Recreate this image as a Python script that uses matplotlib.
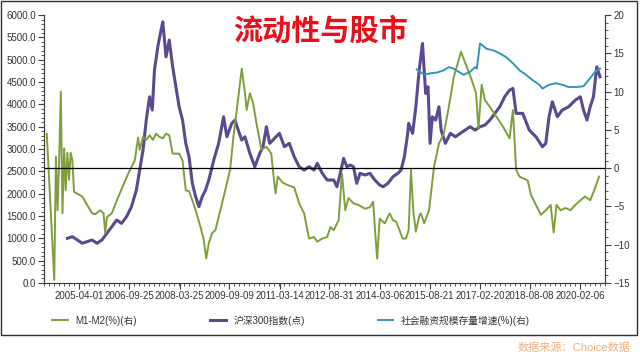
import matplotlib
matplotlib.use("Agg")
import matplotlib.pyplot as plt
import matplotlib.dates as mdates
from matplotlib.patches import Rectangle
import numpy as np
import pandas as pd

plt.rcParams['font.family'] = ['Liberation Sans', 'Noto Sans CJK SC']

# M1-M2 (%), right axis
m1m2_dates = ["2004-04-15", "2004-07-05", "2004-07-23", "2004-08-10", "2004-08-28", "2004-09-14",
              "2004-10-02", "2004-10-20", "2004-11-06", "2004-11-24", "2004-12-12", "2004-12-30",
              "2005-01-17", "2005-02-04", "2005-05-04", "2005-08-18", "2005-09-23", "2005-11-15",
              "2005-12-21", "2006-01-08", "2006-01-26", "2006-03-20", "2006-05-31", "2006-09-14",
              "2006-11-23", "2006-12-30", "2007-01-16", "2007-02-21", "2007-03-28", "2007-05-03",
              "2007-06-08", "2007-07-13", "2007-08-17", "2007-09-23", "2007-10-28", "2007-12-02",
              "2008-01-08", "2008-03-18", "2008-04-24", "2008-05-29", "2008-07-03", "2008-08-08",
              "2008-09-13", "2008-11-05", "2008-12-10", "2009-01-05", "2009-02-02", "2009-03-10",
              "2009-04-15", "2009-06-07", "2009-07-30", "2009-09-21", "2009-10-27", "2009-12-02",
              "2010-01-25", "2010-03-01", "2010-03-19", "2010-04-23", "2010-05-28", "2010-07-03",
              "2010-08-26", "2010-10-19", "2010-12-11", "2010-12-28", "2011-01-26", "2011-02-19",
              "2011-04-14", "2011-06-24", "2011-08-16", "2011-10-09", "2011-12-01", "2012-01-24",
              "2012-03-17", "2012-04-22", "2012-06-15", "2012-08-07", "2012-09-12", "2012-10-17",
              "2012-12-09", "2013-01-14", "2013-02-19", "2013-03-26", "2013-05-19", "2013-07-11",
              "2013-09-21", "2013-11-13", "2013-12-18", "2014-01-05", "2014-01-30", "2014-02-27",
              "2014-04-22", "2014-06-15", "2014-07-20", "2014-08-24", "2014-09-29", "2014-11-03",
              "2014-12-08", "2015-01-06", "2015-01-31", "2015-02-25", "2015-03-25", "2015-04-30",
              "2015-05-18", "2015-06-23", "2015-08-15", "2015-10-08", "2015-11-30", "2016-01-22",
              "2016-03-16", "2016-05-09", "2016-07-26", "2016-09-28", "2016-11-20", "2017-01-05",
              "2017-01-31", "2017-03-07", "2017-04-11", "2017-06-04", "2017-08-14", "2017-10-25",
              "2018-01-03", "2018-02-08", "2018-03-15", "2018-04-20", "2018-07-18", "2018-08-23",
              "2018-10-15", "2018-12-08", "2019-01-30", "2019-03-24", "2019-04-25", "2019-05-27",
              "2019-07-09", "2019-08-31", "2019-10-23", "2019-12-16", "2020-02-08", "2020-04-01",
              "2020-05-25", "2020-07-17", "2020-08-28"]
m1m2 = [4.5, -14.6, 1.5, -5.5, 1.5, 10.0,
        -5.9, 2.6, -2.9, 2.0, -1.5, 2.0,
        1.0, -3.1, -3.7, -5.9, -6.0, -5.5,
        -5.9, -8.5, -6.4, -5.9, -3.7, -0.7,
        1.0, 4.0, 2.4, 4.1, 3.7, 4.3,
        3.7, 4.5, 4.1, 3.9, 4.5, 4.3,
        1.9, 1.9, 1.0, -2.9, -3.0, -4.2,
        -5.5, -7.7, -9.4, -11.8, -9.8, -8.5,
        -8.1, -5.5, -2.9, -0.2, 4.1, 7.6,
        13.0, 9.8, 7.6, 9.8, 8.5, 5.9,
        2.4, 2.8, 1.9, -0.2, -3.3, -1.1,
        -1.9, -2.3, -2.5, -4.6, -5.9, -9.2,
        -9.0, -9.6, -9.2, -9.0, -7.7, -8.1,
        -6.8, -0.7, -5.5, -3.9, -4.6, -4.8,
        -5.3, -5.1, -4.4, -7.7, -11.8, -6.6,
        -7.2, -5.9, -6.8, -7.0, -8.1, -9.2,
        -9.2, -8.1, -0.2, -5.5, -8.3, -6.3,
        -5.9, -7.2, -5.5, 0.2, 3.2, 4.5,
        8.0, 11.9, 15.2, 13.2, 11.5, 9.8,
        5.2, 10.9, 8.9, 8.0, 6.7, 5.4,
        3.9, 7.6, -0.2, -1.1, -1.6, -3.5,
        -4.8, -6.1, -5.5, -4.8, -8.4, -4.8,
        -5.5, -5.2, -5.5, -4.8, -4.2, -3.7,
        -4.2, -2.6, -1.1]

# CSI 300 index (points), left axis
hs300_dates = ["2004-11-24", "2005-01-17", "2005-03-11", "2005-05-04", "2005-06-26", "2005-08-18",
               "2005-10-11", "2005-12-03", "2006-01-26", "2006-03-20", "2006-05-12", "2006-07-04",
               "2006-08-27", "2006-10-19", "2006-12-11", "2007-01-16", "2007-02-21", "2007-03-28",
               "2007-05-03", "2007-06-01", "2007-06-25", "2007-07-31", "2007-09-04", "2007-09-23",
               "2007-10-28", "2007-12-02", "2008-01-08", "2008-02-12", "2008-03-18", "2008-04-24",
               "2008-05-29", "2008-07-03", "2008-08-08", "2008-09-13", "2008-10-18", "2008-11-23",
               "2008-12-29", "2009-02-02", "2009-03-28", "2009-05-20", "2009-07-12", "2009-08-17",
               "2009-10-09", "2009-11-13", "2009-12-18", "2010-01-25", "2010-03-01", "2010-04-23",
               "2010-06-15", "2010-08-08", "2010-09-12", "2010-10-19", "2010-11-23", "2011-02-02",
               "2011-03-09", "2011-05-02", "2011-06-24", "2011-08-16", "2011-10-09", "2011-12-01",
               "2012-01-24", "2012-03-17", "2012-04-22", "2012-06-15", "2012-08-07", "2012-10-17",
               "2012-11-21", "2012-12-27", "2013-02-01", "2013-03-08", "2013-04-14", "2013-05-19",
               "2013-06-23", "2013-07-29", "2013-09-21", "2013-11-13", "2014-01-05", "2014-02-27",
               "2014-04-04", "2014-05-27", "2014-07-20", "2014-09-11", "2014-10-16", "2014-11-21",
               "2014-12-27", "2015-01-06", "2015-02-18", "2015-03-25", "2015-04-30", "2015-06-05",
               "2015-06-23", "2015-07-10", "2015-08-04", "2015-08-26", "2015-09-20", "2015-10-25",
               "2015-11-30", "2015-12-24", "2016-02-08", "2016-04-02", "2016-05-26", "2016-07-18",
               "2016-09-10", "2016-11-02", "2016-12-25", "2017-02-17", "2017-04-11", "2017-06-04",
               "2017-07-27", "2017-09-19", "2017-11-11", "2018-01-03", "2018-02-08", "2018-03-15",
               "2018-05-26", "2018-08-04", "2018-10-15", "2018-12-25", "2019-01-30", "2019-03-06",
               "2019-04-11", "2019-06-04", "2019-07-27", "2019-10-05", "2019-12-16", "2020-02-08",
               "2020-03-14", "2020-04-20", "2020-05-25", "2020-06-29", "2020-08-04", "2020-09-08"]
hs300 = [1000, 1037, 963, 889, 926, 963,
         889, 963, 1112, 1261, 1410, 1335,
         1485, 1708, 2082, 2530, 2977, 3649,
         4171, 3873, 4768, 5290, 5664, 5850,
         5066, 5440, 4842, 4394, 3947, 3649,
         3127, 2828, 2232, 1932, 1708, 1932,
         2082, 2306, 2753, 3127, 3723, 3275,
         3575, 3649, 3425, 3201, 3275, 2903,
         2604, 2903, 3052, 3500, 3127, 3275,
         3351, 3052, 3127, 2828, 2604, 2530,
         2604, 2530, 2679, 2456, 2306, 2306,
         2156, 2456, 2791, 2604, 2642, 2604,
         2232, 2456, 2418, 2456, 2306, 2194,
         2156, 2232, 2380, 2456, 2530, 2828,
         3351, 3575, 3351, 3947, 4768, 5365,
         4768, 4246, 4395, 3127, 3723, 3649,
         3947, 3425, 3127, 3351, 3275, 3351,
         3425, 3500, 3425, 3500, 3537, 3649,
         3798, 3947, 4171, 4320, 4358, 3799,
         3799, 3425, 3275, 3052, 3127, 3723,
         4059, 3723, 3873, 3947, 4097, 4171,
         3873, 3649, 3947, 4171, 4842, 4619]

# social financing stock growth (%), right axis
sf_dates = ["2015-04-04", "2015-06-23", "2015-09-01", "2015-11-11", "2016-01-22", "2016-03-16",
            "2016-05-09", "2016-07-01", "2016-08-24", "2016-11-02", "2016-12-25", "2017-01-13",
            "2017-02-17", "2017-04-29", "2017-07-09", "2017-09-19", "2017-11-29", "2018-02-08",
            "2018-04-20", "2018-06-30", "2018-09-10", "2018-11-20", "2018-12-25", "2019-03-06",
            "2019-05-16", "2019-07-27", "2019-10-05", "2019-12-16", "2020-03-14", "2020-05-07",
            "2020-07-17", "2020-09-08"]
sf = [12.9, 12.2, 12.4, 12.5, 12.8, 13.2,
      13.0, 12.6, 12.2, 12.6, 13.2, 13.0,
      16.3, 15.6, 15.4, 15.0, 14.5, 13.7,
      12.8, 12.2, 11.5, 10.9, 10.4, 10.9,
      11.1, 10.9, 10.6, 10.6, 10.7, 11.5,
      12.6, 13.0]

tick_dates = ["2005-04-01", "2006-09-25", "2008-03-25", "2009-09-09", "2011-03-14", "2012-08-31",
              "2014-03-06", "2015-08-21", "2017-02-20", "2018-08-08", "2020-02-06"]

green = '#7f9f3d'
purple = '#5c4a8e'
teal = '#3497b2'
txt = '#333333'

fig = plt.figure(figsize=(6.4, 3.6), dpi=100)
ax = fig.add_axes([0.069, 0.214, 0.876, 0.744])
ax2 = ax.twinx()

ax.plot(pd.to_datetime(hs300_dates), hs300, color=purple, lw=2.2, label='沪深300指数(点)')
ax2.plot(pd.to_datetime(m1m2_dates), m1m2, color=green, lw=1.4, label='M1-M2(%)(右)')
ax2.plot(pd.to_datetime(sf_dates), sf, color=teal, lw=1.4, label='社会融资规模存量增速(%)(右)')
ax2.axhline(0, color='black', lw=0.9)

ax.set_xlim(pd.Timestamp("2004-04-15"), pd.Timestamp("2020-09-08"))
ax.set_ylim(0, 6000)
ax2.set_ylim(-15, 20)

ax.set_yticks(np.arange(0, 6001, 500))
ax.set_yticklabels([f"{v:.1f}" for v in np.arange(0, 6001, 500)])
ax.yaxis.set_minor_locator(matplotlib.ticker.MultipleLocator(100))
ax2.set_yticks(np.arange(-15, 21, 5))
ax2.yaxis.set_minor_locator(matplotlib.ticker.MultipleLocator(1))

ticks = pd.to_datetime(tick_dates)
ax.set_xticks(ticks)
ax.set_xticklabels(tick_dates)
tnum = mdates.date2num(ticks)
step = (tnum[1] - tnum[0]) / 10
ax.set_xticks(np.arange(tnum[0] - 7 * step, tnum[-1] + 5 * step, step), minor=True)

for a in (ax, ax2):
    a.spines['top'].set_visible(False)
    for s in ('left', 'right', 'bottom'):
        a.spines[s].set_color('#404040')
        a.spines[s].set_linewidth(0.8)
    a.tick_params(which='major', length=4, width=0.8, color='#404040', labelsize=7, labelcolor=txt, pad=2)
    a.tick_params(which='minor', length=2, width=0.6, color='#404040')

fig.text(0.5, 0.915, '流动性与股市', color='#e8101a', fontsize=21, fontweight='bold',
         ha='center', va='center', family=['Noto Sans CJK SC'])

h1, l1 = ax2.get_legend_handles_labels()
h0, l0 = ax.get_legend_handles_labels()
fig.legend([h1[0], h0[0], h1[1]], [l1[0], l0[0], l1[1]], ncol=3, loc='center',
           bbox_to_anchor=(0.455, 0.11), frameon=False, fontsize=7, labelcolor=txt,
           handlelength=1.6, handletextpad=0.8, columnspacing=7.5)

fig.patches.append(Rectangle((0.002, 0.07), 0.994, 0.927, transform=fig.transFigure,
                             fill=False, edgecolor='#303030', lw=1.0))
fig.text(0.985, 0.035, '数据来源：Choice数据', color='#f2b07f', fontsize=8,
         ha='right', va='center')

fig.savefig('out.png', dpi=100)
